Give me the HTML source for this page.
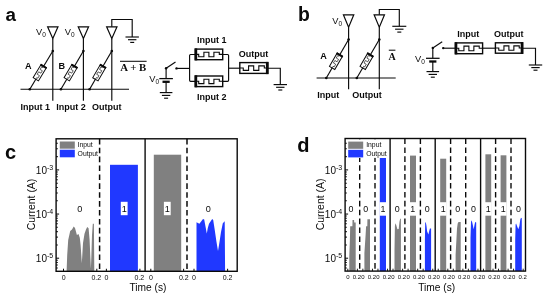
<!DOCTYPE html>
<html><head><meta charset="utf-8"><title>Figure</title>
<style>html,body{margin:0;padding:0;background:#fff}svg{display:block;filter:blur(0.35px)}</style></head>
<body>
<svg width="550" height="297" viewBox="0 0 550 297">
<rect width="550" height="297" fill="#fff"/>
<text x="5.40" y="21.00" font-size="18.8" font-weight="bold" text-anchor="start" font-family="Liberation Sans, Arial, sans-serif" fill="#0a0a0a" >a</text>
<line x1="20.50" y1="89.20" x2="129.00" y2="89.20" stroke="#0a0a0a" stroke-width="1.15" />
<polygon points="47.60,26.80 58.00,26.80 52.80,38.50" fill="#fff" stroke="#0a0a0a" stroke-width="1.15" stroke-linejoin="miter"/>
<line x1="52.80" y1="38.50" x2="52.80" y2="100.80" stroke="#0a0a0a" stroke-width="1.15" />
<line x1="52.80" y1="51.00" x2="29.80" y2="89.20" stroke="#0a0a0a" stroke-width="1.15" />
<circle cx="52.80" cy="51.00" r="1.3" fill="#0a0a0a"/>
<circle cx="29.80" cy="89.20" r="1.3" fill="#0a0a0a"/>
<g transform="translate(39.80,72.58) rotate(121.05)">
<rect x="-7.75" y="-3.10" width="15.50" height="6.20" fill="#fff" stroke="#0a0a0a" stroke-width="0.95"/>
<rect x="-8.22" y="-3.58" width="2.0" height="7.15" fill="#0a0a0a"/>
<path d="M-7.75,0 H-5.83 V1.36 H-2.88 V-1.24 H-0.06 V1.36 H2.77 V-1.24 H5.83 V0 H7.75" fill="none" stroke="#0a0a0a" stroke-width="0.6"/>
</g>
<polygon points="78.20,26.80 88.60,26.80 83.40,38.50" fill="#fff" stroke="#0a0a0a" stroke-width="1.15" stroke-linejoin="miter"/>
<line x1="83.40" y1="38.50" x2="83.40" y2="100.80" stroke="#0a0a0a" stroke-width="1.15" />
<line x1="83.40" y1="51.00" x2="60.90" y2="89.20" stroke="#0a0a0a" stroke-width="1.15" />
<circle cx="83.40" cy="51.00" r="1.3" fill="#0a0a0a"/>
<circle cx="60.90" cy="89.20" r="1.3" fill="#0a0a0a"/>
<g transform="translate(70.69,72.58) rotate(120.50)">
<rect x="-7.75" y="-3.10" width="15.50" height="6.20" fill="#fff" stroke="#0a0a0a" stroke-width="0.95"/>
<rect x="-8.22" y="-3.58" width="2.0" height="7.15" fill="#0a0a0a"/>
<path d="M-7.75,0 H-5.83 V1.36 H-2.88 V-1.24 H-0.06 V1.36 H2.77 V-1.24 H5.83 V0 H7.75" fill="none" stroke="#0a0a0a" stroke-width="0.6"/>
</g>
<polygon points="106.60,26.80 117.00,26.80 111.80,38.50" fill="#fff" stroke="#0a0a0a" stroke-width="1.15" stroke-linejoin="miter"/>
<line x1="111.80" y1="38.50" x2="111.80" y2="100.80" stroke="#0a0a0a" stroke-width="1.15" />
<line x1="111.80" y1="51.00" x2="89.60" y2="89.20" stroke="#0a0a0a" stroke-width="1.15" />
<circle cx="111.80" cy="51.00" r="1.3" fill="#0a0a0a"/>
<circle cx="89.60" cy="89.20" r="1.3" fill="#0a0a0a"/>
<g transform="translate(99.26,72.58) rotate(120.16)">
<rect x="-7.75" y="-3.10" width="15.50" height="6.20" fill="#fff" stroke="#0a0a0a" stroke-width="0.95"/>
<rect x="-8.22" y="-3.58" width="2.0" height="7.15" fill="#0a0a0a"/>
<path d="M-7.75,0 H-5.83 V1.36 H-2.88 V-1.24 H-0.06 V1.36 H2.77 V-1.24 H5.83 V0 H7.75" fill="none" stroke="#0a0a0a" stroke-width="0.6"/>
</g>
<text x="36.00" y="35.30" font-size="9.3" font-family="Liberation Sans, Arial, sans-serif" fill="#0a0a0a">V<tspan font-size="6.51" dy="1.7">0</tspan></text>
<text x="64.80" y="35.30" font-size="9.3" font-family="Liberation Sans, Arial, sans-serif" fill="#0a0a0a">V<tspan font-size="6.51" dy="1.7">0</tspan></text>
<path d="M111.8,26.8 V19.5 H132.2 V37" fill="none" stroke="#0a0a0a" stroke-width="1.15"/>
<line x1="125.50" y1="37.00" x2="138.90" y2="37.00" stroke="#0a0a0a" stroke-width="1.15" />
<line x1="128.00" y1="39.70" x2="136.40" y2="39.70" stroke="#0a0a0a" stroke-width="1.15" />
<line x1="130.20" y1="42.40" x2="134.20" y2="42.40" stroke="#0a0a0a" stroke-width="1.15" />
<text x="25.10" y="68.60" font-size="9.1" font-weight="bold" text-anchor="start" font-family="Liberation Sans, Arial, sans-serif" fill="#0a0a0a" >A</text>
<text x="58.50" y="68.60" font-size="9.1" font-weight="bold" text-anchor="start" font-family="Liberation Sans, Arial, sans-serif" fill="#0a0a0a" >B</text>
<text x="20.50" y="110.40" font-size="9" font-weight="bold" text-anchor="start" font-family="Liberation Sans, Arial, sans-serif" fill="#0a0a0a" >Input 1</text>
<text x="56.20" y="110.40" font-size="9" font-weight="bold" text-anchor="start" font-family="Liberation Sans, Arial, sans-serif" fill="#0a0a0a" >Input 2</text>
<text x="92.00" y="110.40" font-size="9" font-weight="bold" text-anchor="start" font-family="Liberation Sans, Arial, sans-serif" fill="#0a0a0a" >Output</text>
<text x="120.30" y="71.00" font-size="10.4" font-weight="bold" text-anchor="start" font-family="Liberation Serif, Times New Roman, serif" fill="#0a0a0a" textLength="26" lengthAdjust="spacingAndGlyphs">A + B</text>
<line x1="120.00" y1="61.30" x2="146.60" y2="61.30" stroke="#0a0a0a" stroke-width="1.035" />
<circle cx="166.10" cy="68.20" r="1.2" fill="#0a0a0a"/>
<line x1="166.10" y1="68.20" x2="175.50" y2="62.00" stroke="#0a0a0a" stroke-width="1.15" />
<circle cx="176.50" cy="68.40" r="1.2" fill="#0a0a0a"/>
<line x1="166.10" y1="68.20" x2="166.10" y2="78.60" stroke="#0a0a0a" stroke-width="1.15" />
<line x1="159.30" y1="78.60" x2="172.90" y2="78.60" stroke="#0a0a0a" stroke-width="1.265" />
<line x1="162.50" y1="81.80" x2="169.70" y2="81.80" stroke="#0a0a0a" stroke-width="2.3" />
<line x1="166.10" y1="81.80" x2="166.10" y2="92.60" stroke="#0a0a0a" stroke-width="1.15" />
<line x1="159.80" y1="92.60" x2="172.40" y2="92.60" stroke="#0a0a0a" stroke-width="1.15" />
<line x1="161.90" y1="95.40" x2="170.30" y2="95.40" stroke="#0a0a0a" stroke-width="1.15" />
<line x1="164.10" y1="98.20" x2="168.10" y2="98.20" stroke="#0a0a0a" stroke-width="1.15" />
<text x="149.20" y="82.00" font-size="9.3" font-family="Liberation Sans, Arial, sans-serif" fill="#0a0a0a">V<tspan font-size="6.51" dy="1.7">0</tspan></text>
<line x1="176.50" y1="68.40" x2="189.60" y2="68.40" stroke="#0a0a0a" stroke-width="1.15" />
<path d="M195,54.5 H190.6 Q189.6,54.5 189.6,55.5 V80.3 Q189.6,81.3 190.6,81.3 H195" fill="none" stroke="#0a0a0a" stroke-width="1.15"/>
<path d="M223,54.5 H227.6 Q228.6,54.5 228.6,55.5 V80.3 Q228.6,81.3 227.6,81.3 H223" fill="none" stroke="#0a0a0a" stroke-width="1.15"/>
<g transform="translate(209.00,54.40) rotate(0.00)">
<rect x="-13.70" y="-5.30" width="27.40" height="10.60" fill="#fff" stroke="#0a0a0a" stroke-width="1.4"/>
<rect x="-14.40" y="-6.00" width="2.6" height="12.00" fill="#0a0a0a"/>
<path d="M-13.70,0 H-10.30 V2.33 H-5.10 V-2.12 H-0.11 V2.33 H4.90 V-2.12 H10.30 V0 H13.70" fill="none" stroke="#0a0a0a" stroke-width="1.1"/>
</g>
<g transform="translate(209.00,81.30) rotate(0.00)">
<rect x="-13.70" y="-5.30" width="27.40" height="10.60" fill="#fff" stroke="#0a0a0a" stroke-width="1.4"/>
<rect x="-14.40" y="-6.00" width="2.6" height="12.00" fill="#0a0a0a"/>
<path d="M-13.70,0 H-10.30 V2.33 H-5.10 V-2.12 H-0.11 V2.33 H4.90 V-2.12 H10.30 V0 H13.70" fill="none" stroke="#0a0a0a" stroke-width="1.1"/>
</g>
<line x1="228.60" y1="68.20" x2="240.00" y2="68.20" stroke="#0a0a0a" stroke-width="1.15" />
<g transform="translate(253.80,68.00) rotate(0.00)">
<rect x="-14.00" y="-5.40" width="28.00" height="10.80" fill="#fff" stroke="#0a0a0a" stroke-width="1.4"/>
<rect x="12.10" y="-6.10" width="2.6" height="12.20" fill="#0a0a0a"/>
<path d="M-14.00,0 H-10.53 V2.38 H-5.21 V-2.16 H-0.11 V2.38 H5.01 V-2.16 H10.53 V0 H14.00" fill="none" stroke="#0a0a0a" stroke-width="1.1"/>
</g>
<path d="M268,68.2 H280.3 V84.6" fill="none" stroke="#0a0a0a" stroke-width="1.15"/>
<line x1="273.60" y1="84.60" x2="287.00" y2="84.60" stroke="#0a0a0a" stroke-width="1.15" />
<line x1="276.10" y1="87.30" x2="284.50" y2="87.30" stroke="#0a0a0a" stroke-width="1.15" />
<line x1="278.30" y1="90.00" x2="282.30" y2="90.00" stroke="#0a0a0a" stroke-width="1.15" />
<text x="197.00" y="42.90" font-size="9" font-weight="bold" text-anchor="start" font-family="Liberation Sans, Arial, sans-serif" fill="#0a0a0a" >Input 1</text>
<text x="197.00" y="100.20" font-size="9" font-weight="bold" text-anchor="start" font-family="Liberation Sans, Arial, sans-serif" fill="#0a0a0a" >Input 2</text>
<text x="238.80" y="57.40" font-size="9" font-weight="bold" text-anchor="start" font-family="Liberation Sans, Arial, sans-serif" fill="#0a0a0a" >Output</text>
<text x="297.90" y="21.30" font-size="19.4" font-weight="bold" text-anchor="start" font-family="Liberation Sans, Arial, sans-serif" fill="#0a0a0a" >b</text>
<line x1="316.60" y1="78.00" x2="395.70" y2="78.00" stroke="#0a0a0a" stroke-width="1.15" />
<polygon points="343.40,14.80 353.80,14.80 348.60,27.20" fill="#fff" stroke="#0a0a0a" stroke-width="1.15" stroke-linejoin="miter"/>
<line x1="348.60" y1="27.20" x2="348.60" y2="89.20" stroke="#0a0a0a" stroke-width="1.15" />
<line x1="348.60" y1="39.50" x2="326.30" y2="78.00" stroke="#0a0a0a" stroke-width="1.15" />
<circle cx="348.60" cy="39.50" r="1.3" fill="#0a0a0a"/>
<circle cx="326.30" cy="78.00" r="1.3" fill="#0a0a0a"/>
<g transform="translate(336.00,61.25) rotate(120.08)">
<rect x="-7.75" y="-3.10" width="15.50" height="6.20" fill="#fff" stroke="#0a0a0a" stroke-width="0.95"/>
<rect x="-8.22" y="-3.58" width="2.0" height="7.15" fill="#0a0a0a"/>
<path d="M-7.75,0 H-5.83 V1.36 H-2.88 V-1.24 H-0.06 V1.36 H2.77 V-1.24 H5.83 V0 H7.75" fill="none" stroke="#0a0a0a" stroke-width="0.6"/>
</g>
<polygon points="374.10,14.80 384.50,14.80 379.30,27.20" fill="#fff" stroke="#0a0a0a" stroke-width="1.15" stroke-linejoin="miter"/>
<line x1="379.30" y1="27.20" x2="379.30" y2="89.20" stroke="#0a0a0a" stroke-width="1.15" />
<line x1="379.30" y1="39.50" x2="356.80" y2="78.00" stroke="#0a0a0a" stroke-width="1.15" />
<circle cx="379.30" cy="39.50" r="1.3" fill="#0a0a0a"/>
<circle cx="356.80" cy="78.00" r="1.3" fill="#0a0a0a"/>
<g transform="translate(366.59,61.25) rotate(120.30)">
<rect x="-7.75" y="-3.10" width="15.50" height="6.20" fill="#fff" stroke="#0a0a0a" stroke-width="0.95"/>
<rect x="-8.22" y="-3.58" width="2.0" height="7.15" fill="#0a0a0a"/>
<path d="M-7.75,0 H-5.83 V1.36 H-2.88 V-1.24 H-0.06 V1.36 H2.77 V-1.24 H5.83 V0 H7.75" fill="none" stroke="#0a0a0a" stroke-width="0.6"/>
</g>
<text x="332.30" y="24.00" font-size="9.3" font-family="Liberation Sans, Arial, sans-serif" fill="#0a0a0a">V<tspan font-size="6.51" dy="1.7">0</tspan></text>
<path d="M379.3,14.8 V9.5 H399.3 V26.3" fill="none" stroke="#0a0a0a" stroke-width="1.15"/>
<line x1="392.30" y1="26.30" x2="406.30" y2="26.30" stroke="#0a0a0a" stroke-width="1.15" />
<line x1="395.10" y1="29.20" x2="403.50" y2="29.20" stroke="#0a0a0a" stroke-width="1.15" />
<line x1="397.30" y1="32.10" x2="401.30" y2="32.10" stroke="#0a0a0a" stroke-width="1.15" />
<text x="320.30" y="58.50" font-size="9.1" font-weight="bold" text-anchor="start" font-family="Liberation Sans, Arial, sans-serif" fill="#0a0a0a" >A</text>
<text x="388.40" y="59.90" font-size="10" font-weight="bold" text-anchor="start" font-family="Liberation Serif, Times New Roman, serif" fill="#0a0a0a" >A</text>
<line x1="388.80" y1="50.20" x2="395.40" y2="50.20" stroke="#0a0a0a" stroke-width="1.035" />
<text x="317.20" y="98.30" font-size="9" font-weight="bold" text-anchor="start" font-family="Liberation Sans, Arial, sans-serif" fill="#0a0a0a" >Input</text>
<text x="352.20" y="98.30" font-size="9" font-weight="bold" text-anchor="start" font-family="Liberation Sans, Arial, sans-serif" fill="#0a0a0a" >Output</text>
<circle cx="432.80" cy="47.90" r="1.2" fill="#0a0a0a"/>
<line x1="432.80" y1="47.90" x2="442.20" y2="41.70" stroke="#0a0a0a" stroke-width="1.15" />
<circle cx="443.20" cy="48.10" r="1.2" fill="#0a0a0a"/>
<line x1="432.80" y1="47.90" x2="432.80" y2="58.30" stroke="#0a0a0a" stroke-width="1.15" />
<line x1="426.00" y1="58.30" x2="439.60" y2="58.30" stroke="#0a0a0a" stroke-width="1.265" />
<line x1="429.20" y1="61.50" x2="436.40" y2="61.50" stroke="#0a0a0a" stroke-width="2.3" />
<line x1="432.80" y1="61.50" x2="432.80" y2="71.60" stroke="#0a0a0a" stroke-width="1.15" />
<line x1="426.50" y1="71.60" x2="439.10" y2="71.60" stroke="#0a0a0a" stroke-width="1.15" />
<line x1="428.60" y1="74.40" x2="437.00" y2="74.40" stroke="#0a0a0a" stroke-width="1.15" />
<line x1="430.80" y1="77.20" x2="434.80" y2="77.20" stroke="#0a0a0a" stroke-width="1.15" />
<text x="415.00" y="62.00" font-size="9.3" font-family="Liberation Sans, Arial, sans-serif" fill="#0a0a0a">V<tspan font-size="6.51" dy="1.7">0</tspan></text>
<line x1="443.00" y1="48.20" x2="456.00" y2="48.20" stroke="#0a0a0a" stroke-width="1.15" />
<g transform="translate(469.00,48.30) rotate(0.00)">
<rect x="-13.60" y="-5.40" width="27.20" height="10.80" fill="#fff" stroke="#0a0a0a" stroke-width="1.4"/>
<rect x="-14.30" y="-6.10" width="2.6" height="12.20" fill="#0a0a0a"/>
<path d="M-13.60,0 H-10.23 V2.38 H-5.06 V-2.16 H-0.11 V2.38 H4.87 V-2.16 H10.23 V0 H13.60" fill="none" stroke="#0a0a0a" stroke-width="1.1"/>
</g>
<line x1="482.60" y1="48.20" x2="496.00" y2="48.20" stroke="#0a0a0a" stroke-width="1.15" />
<g transform="translate(509.00,48.00) rotate(0.00)">
<rect x="-13.60" y="-5.20" width="27.20" height="10.40" fill="#fff" stroke="#0a0a0a" stroke-width="1.4"/>
<rect x="11.70" y="-5.90" width="2.6" height="11.80" fill="#0a0a0a"/>
<path d="M-13.60,0 H-10.23 V2.29 H-5.06 V-2.08 H-0.11 V2.29 H4.87 V-2.08 H10.23 V0 H13.60" fill="none" stroke="#0a0a0a" stroke-width="1.1"/>
</g>
<path d="M522.7,48.2 H535.5 V65" fill="none" stroke="#0a0a0a" stroke-width="1.15"/>
<line x1="528.80" y1="65.00" x2="542.20" y2="65.00" stroke="#0a0a0a" stroke-width="1.15" />
<line x1="531.30" y1="67.60" x2="539.70" y2="67.60" stroke="#0a0a0a" stroke-width="1.15" />
<line x1="533.50" y1="70.20" x2="537.50" y2="70.20" stroke="#0a0a0a" stroke-width="1.15" />
<text x="457.20" y="36.50" font-size="9" font-weight="bold" text-anchor="start" font-family="Liberation Sans, Arial, sans-serif" fill="#0a0a0a" >Input</text>
<text x="494.00" y="36.50" font-size="9" font-weight="bold" text-anchor="start" font-family="Liberation Sans, Arial, sans-serif" fill="#0a0a0a" >Output</text>
<text x="4.90" y="159.00" font-size="20" font-weight="bold" text-anchor="start" font-family="Liberation Sans, Arial, sans-serif" fill="#0a0a0a" >c</text>
<rect x="59.8" y="141.5" width="15" height="7.2" fill="#808080"/>
<rect x="59.8" y="149.7" width="15" height="7.6" fill="#2038ff"/>
<text x="77.60" y="147.30" font-size="6.8" font-weight="normal" text-anchor="start" font-family="Liberation Sans, Arial, sans-serif" fill="#0a0a0a" >Input</text>
<text x="77.60" y="156.00" font-size="6.8" font-weight="normal" text-anchor="start" font-family="Liberation Sans, Arial, sans-serif" fill="#0a0a0a" >Output</text>
<rect x="110" y="164.8" width="27.9" height="106.50" fill="#2038ff"/>
<rect x="153.8" y="154.7" width="27.4" height="116.60" fill="#808080"/>
<polygon points="66.60,271.30 67.20,255.00 68.20,240.00 70.20,231.00 72.00,229.50 73.70,226.40 75.00,228.00 76.90,235.00 78.50,234.00 79.80,237.70 80.60,245.00 81.30,255.00 81.80,263.30 82.30,255.00 83.00,243.00 84.50,233.70 86.00,229.50 87.20,226.90 88.60,228.30 89.60,240.00 90.40,258.00 90.90,268.70 91.30,258.00 92.00,235.00 92.80,223.70 93.90,223.70 94.30,271.30" fill="#808080" stroke="none" stroke-width="1" stroke-linejoin="miter"/>
<polygon points="196.50,271.30 196.50,222.20 199.40,223.80 201.50,221.00 203.00,219.00 204.20,219.50 205.60,227.00 206.80,233.40 207.80,228.00 209.00,223.80 212.20,219.00 213.20,220.00 214.60,229.00 216.50,242.00 218.00,251.00 219.50,242.00 221.00,232.00 222.80,223.20 224.70,221.20 225.10,271.30" fill="#2038ff" stroke="none" stroke-width="1" stroke-linejoin="miter"/>
<line x1="99.60" y1="138.80" x2="99.60" y2="271.30" stroke="#0a0a0a" stroke-width="1.495" stroke-dasharray="5.6 3.3"/>
<line x1="187.00" y1="138.80" x2="187.00" y2="271.30" stroke="#0a0a0a" stroke-width="1.495" stroke-dasharray="5.6 3.3"/>
<line x1="145.10" y1="138.80" x2="145.10" y2="271.30" stroke="#0a0a0a" stroke-width="1.38" />
<line x1="63.50" y1="271.30" x2="63.50" y2="268.70" stroke="#0a0a0a" stroke-width="1.035" />
<line x1="96.80" y1="271.30" x2="96.80" y2="268.70" stroke="#0a0a0a" stroke-width="1.035" />
<line x1="106.40" y1="271.30" x2="106.40" y2="268.70" stroke="#0a0a0a" stroke-width="1.035" />
<line x1="139.90" y1="271.30" x2="139.90" y2="268.70" stroke="#0a0a0a" stroke-width="1.035" />
<line x1="150.80" y1="271.30" x2="150.80" y2="268.70" stroke="#0a0a0a" stroke-width="1.035" />
<line x1="183.60" y1="271.30" x2="183.60" y2="268.70" stroke="#0a0a0a" stroke-width="1.035" />
<line x1="194.00" y1="271.30" x2="194.00" y2="268.70" stroke="#0a0a0a" stroke-width="1.035" />
<line x1="227.60" y1="271.30" x2="227.60" y2="268.70" stroke="#0a0a0a" stroke-width="1.035" />
<line x1="56.10" y1="267.99" x2="57.80" y2="267.99" stroke="#0a0a0a" stroke-width="1.035" />
<line x1="56.10" y1="265.04" x2="57.80" y2="265.04" stroke="#0a0a0a" stroke-width="1.035" />
<line x1="56.10" y1="262.48" x2="57.80" y2="262.48" stroke="#0a0a0a" stroke-width="1.035" />
<line x1="56.10" y1="260.22" x2="57.80" y2="260.22" stroke="#0a0a0a" stroke-width="1.035" />
<line x1="56.10" y1="258.20" x2="59.10" y2="258.20" stroke="#0a0a0a" stroke-width="1.035" />
<line x1="56.10" y1="244.91" x2="57.80" y2="244.91" stroke="#0a0a0a" stroke-width="1.035" />
<line x1="56.10" y1="237.14" x2="57.80" y2="237.14" stroke="#0a0a0a" stroke-width="1.035" />
<line x1="56.10" y1="231.62" x2="57.80" y2="231.62" stroke="#0a0a0a" stroke-width="1.035" />
<line x1="56.10" y1="227.34" x2="57.80" y2="227.34" stroke="#0a0a0a" stroke-width="1.035" />
<line x1="56.10" y1="223.84" x2="57.80" y2="223.84" stroke="#0a0a0a" stroke-width="1.035" />
<line x1="56.10" y1="220.89" x2="57.80" y2="220.89" stroke="#0a0a0a" stroke-width="1.035" />
<line x1="56.10" y1="218.33" x2="57.80" y2="218.33" stroke="#0a0a0a" stroke-width="1.035" />
<line x1="56.10" y1="216.07" x2="57.80" y2="216.07" stroke="#0a0a0a" stroke-width="1.035" />
<line x1="56.10" y1="214.05" x2="59.10" y2="214.05" stroke="#0a0a0a" stroke-width="1.035" />
<line x1="56.10" y1="200.76" x2="57.80" y2="200.76" stroke="#0a0a0a" stroke-width="1.035" />
<line x1="56.10" y1="192.99" x2="57.80" y2="192.99" stroke="#0a0a0a" stroke-width="1.035" />
<line x1="56.10" y1="187.47" x2="57.80" y2="187.47" stroke="#0a0a0a" stroke-width="1.035" />
<line x1="56.10" y1="183.19" x2="57.80" y2="183.19" stroke="#0a0a0a" stroke-width="1.035" />
<line x1="56.10" y1="179.69" x2="57.80" y2="179.69" stroke="#0a0a0a" stroke-width="1.035" />
<line x1="56.10" y1="176.74" x2="57.80" y2="176.74" stroke="#0a0a0a" stroke-width="1.035" />
<line x1="56.10" y1="174.18" x2="57.80" y2="174.18" stroke="#0a0a0a" stroke-width="1.035" />
<line x1="56.10" y1="171.92" x2="57.80" y2="171.92" stroke="#0a0a0a" stroke-width="1.035" />
<line x1="56.10" y1="169.90" x2="59.10" y2="169.90" stroke="#0a0a0a" stroke-width="1.035" />
<line x1="56.10" y1="156.61" x2="57.80" y2="156.61" stroke="#0a0a0a" stroke-width="1.035" />
<line x1="56.10" y1="148.84" x2="57.80" y2="148.84" stroke="#0a0a0a" stroke-width="1.035" />
<line x1="56.10" y1="143.32" x2="57.80" y2="143.32" stroke="#0a0a0a" stroke-width="1.035" />
<rect x="56.1" y="138.8" width="181.10" height="132.50" fill="none" stroke="#0a0a0a" stroke-width="1.4"/>
<text x="53.20" y="173.50" font-size="10" text-anchor="end" font-family="Liberation Sans, Arial, sans-serif" fill="#0a0a0a">10<tspan font-size="7" dy="-3.8">-3</tspan></text>
<text x="53.20" y="217.65" font-size="10" text-anchor="end" font-family="Liberation Sans, Arial, sans-serif" fill="#0a0a0a">10<tspan font-size="7" dy="-3.8">-4</tspan></text>
<text x="53.20" y="261.80" font-size="10" text-anchor="end" font-family="Liberation Sans, Arial, sans-serif" fill="#0a0a0a">10<tspan font-size="7" dy="-3.8">-5</tspan></text>
<text x="63.70" y="279.90" font-size="7" font-weight="normal" text-anchor="middle" font-family="Liberation Sans, Arial, sans-serif" fill="#0a0a0a" >0</text>
<text x="96.30" y="279.90" font-size="7" font-weight="normal" text-anchor="middle" font-family="Liberation Sans, Arial, sans-serif" fill="#0a0a0a" >0.2</text>
<text x="106.40" y="279.90" font-size="7" font-weight="normal" text-anchor="middle" font-family="Liberation Sans, Arial, sans-serif" fill="#0a0a0a" >0</text>
<text x="139.40" y="279.90" font-size="7" font-weight="normal" text-anchor="middle" font-family="Liberation Sans, Arial, sans-serif" fill="#0a0a0a" >0.2</text>
<text x="150.90" y="279.90" font-size="7" font-weight="normal" text-anchor="middle" font-family="Liberation Sans, Arial, sans-serif" fill="#0a0a0a" >0</text>
<text x="183.80" y="279.90" font-size="7" font-weight="normal" text-anchor="middle" font-family="Liberation Sans, Arial, sans-serif" fill="#0a0a0a" >0.2</text>
<text x="194.00" y="279.90" font-size="7" font-weight="normal" text-anchor="middle" font-family="Liberation Sans, Arial, sans-serif" fill="#0a0a0a" >0</text>
<text x="227.60" y="279.90" font-size="7" font-weight="normal" text-anchor="middle" font-family="Liberation Sans, Arial, sans-serif" fill="#0a0a0a" >0.2</text>
<text x="129.40" y="291.00" font-size="10.1" font-weight="normal" text-anchor="start" font-family="Liberation Sans, Arial, sans-serif" fill="#0a0a0a" textLength="37" lengthAdjust="spacingAndGlyphs">Time (s)</text>
<text transform="translate(34.8,230.3) rotate(-90)" font-size="10.3" textLength="51.6" lengthAdjust="spacingAndGlyphs" font-family="Liberation Sans, Arial, sans-serif" fill="#0a0a0a">Current (A)</text>
<text x="79.70" y="212.10" font-size="9.1" font-weight="normal" text-anchor="middle" font-family="Liberation Sans, Arial, sans-serif" fill="#0a0a0a" >0</text>
<text x="208.40" y="212.10" font-size="9.1" font-weight="normal" text-anchor="middle" font-family="Liberation Sans, Arial, sans-serif" fill="#0a0a0a" >0</text>
<rect x="120.80" y="201.8" width="6.8" height="13.4" fill="#fff"/>
<text x="124.20" y="212.10" font-size="9.1" font-weight="normal" text-anchor="middle" font-family="Liberation Sans, Arial, sans-serif" fill="#0a0a0a" >1</text>
<rect x="163.90" y="201.8" width="6.8" height="13.4" fill="#fff"/>
<text x="167.30" y="212.10" font-size="9.1" font-weight="normal" text-anchor="middle" font-family="Liberation Sans, Arial, sans-serif" fill="#0a0a0a" >1</text>
<text x="297.20" y="152.20" font-size="20" font-weight="bold" text-anchor="start" font-family="Liberation Sans, Arial, sans-serif" fill="#0a0a0a" >d</text>
<rect x="379.8" y="157.9" width="6.20" height="113.20" fill="#2038ff"/>
<rect x="410.0" y="155.6" width="6.00" height="115.50" fill="#808080"/>
<rect x="440.2" y="158.7" width="6.00" height="112.40" fill="#808080"/>
<rect x="485.4" y="154.3" width="5.80" height="116.80" fill="#808080"/>
<rect x="500.6" y="155.3" width="5.80" height="115.80" fill="#808080"/>
<polygon points="349.30,271.10 349.30,256.00 349.90,240.00 350.20,226.30 352.40,226.30 352.50,220.00 354.10,220.00 354.20,222.50 355.70,222.50 355.70,271.10" fill="#808080" stroke="none" stroke-width="1" stroke-linejoin="miter"/>
<polygon points="364.40,271.10 364.40,253.00 365.60,235.00 366.10,226.30 367.30,226.30 367.40,219.20 370.00,219.20 370.00,271.10" fill="#808080" stroke="none" stroke-width="1" stroke-linejoin="miter"/>
<polygon points="394.50,271.10 394.50,250.00 394.90,226.00 395.40,223.30 396.20,225.00 397.40,229.30 398.70,229.00 399.40,222.00 400.20,218.40 400.90,219.00 400.90,271.10" fill="#808080" stroke="none" stroke-width="1" stroke-linejoin="miter"/>
<polygon points="424.90,271.10 424.90,240.00 425.20,223.00 425.80,222.00 426.50,226.00 427.10,231.20 428.40,234.40 429.20,231.00 429.90,228.60 431.10,228.60 431.10,271.10" fill="#2038ff" stroke="none" stroke-width="1" stroke-linejoin="miter"/>
<polygon points="455.60,271.10 455.60,255.00 456.40,240.00 457.00,228.50 457.70,223.50 458.50,221.90 460.70,221.90 460.70,271.10" fill="#808080" stroke="none" stroke-width="1" stroke-linejoin="miter"/>
<polygon points="470.50,271.10 470.50,237.60 471.00,222.00 471.70,220.30 472.60,224.00 473.70,229.30 474.50,225.00 475.20,222.00 476.20,222.50 476.20,271.10" fill="#2038ff" stroke="none" stroke-width="1" stroke-linejoin="miter"/>
<polygon points="515.20,271.10 515.20,240.00 515.60,224.50 516.10,223.50 517.20,226.50 518.30,229.30 519.40,226.00 520.30,219.50 521.00,217.80 521.80,218.20 521.80,271.10" fill="#2038ff" stroke="none" stroke-width="1" stroke-linejoin="miter"/>
<line x1="359.70" y1="138.50" x2="359.70" y2="271.10" stroke="#0a0a0a" stroke-width="1.38" stroke-dasharray="5.6 3.3"/>
<line x1="375.00" y1="138.50" x2="375.00" y2="271.10" stroke="#0a0a0a" stroke-width="1.38" stroke-dasharray="5.6 3.3"/>
<line x1="390.10" y1="138.50" x2="390.10" y2="271.10" stroke="#0a0a0a" stroke-width="1.38" />
<line x1="404.90" y1="138.50" x2="404.90" y2="271.10" stroke="#0a0a0a" stroke-width="1.38" stroke-dasharray="5.6 3.3"/>
<line x1="420.40" y1="138.50" x2="420.40" y2="271.10" stroke="#0a0a0a" stroke-width="1.38" stroke-dasharray="5.6 3.3"/>
<line x1="435.20" y1="138.50" x2="435.20" y2="271.10" stroke="#0a0a0a" stroke-width="1.38" />
<line x1="450.60" y1="138.50" x2="450.60" y2="271.10" stroke="#0a0a0a" stroke-width="1.38" stroke-dasharray="5.6 3.3"/>
<line x1="465.70" y1="138.50" x2="465.70" y2="271.10" stroke="#0a0a0a" stroke-width="1.38" stroke-dasharray="5.6 3.3"/>
<line x1="480.60" y1="138.50" x2="480.60" y2="271.10" stroke="#0a0a0a" stroke-width="1.38" />
<line x1="495.60" y1="138.50" x2="495.60" y2="271.10" stroke="#0a0a0a" stroke-width="1.38" stroke-dasharray="5.6 3.3"/>
<line x1="511.00" y1="138.50" x2="511.00" y2="271.10" stroke="#0a0a0a" stroke-width="1.38" stroke-dasharray="5.6 3.3"/>
<rect x="346" y="139.3" width="42.5" height="18.6" fill="#fff"/>
<rect x="348.2" y="141.6" width="15" height="7.2" fill="#808080"/>
<rect x="348.2" y="149.79999999999998" width="15" height="7.6" fill="#2038ff"/>
<text x="366.20" y="147.40" font-size="6.8" font-weight="normal" text-anchor="start" font-family="Liberation Sans, Arial, sans-serif" fill="#0a0a0a" >Input</text>
<text x="366.20" y="156.10" font-size="6.8" font-weight="normal" text-anchor="start" font-family="Liberation Sans, Arial, sans-serif" fill="#0a0a0a" >Output</text>
<line x1="347.80" y1="271.10" x2="347.80" y2="268.70" stroke="#0a0a0a" stroke-width="0.92" />
<line x1="357.40" y1="271.10" x2="357.40" y2="268.70" stroke="#0a0a0a" stroke-width="0.92" />
<line x1="362.87" y1="271.10" x2="362.87" y2="268.70" stroke="#0a0a0a" stroke-width="0.92" />
<line x1="372.47" y1="271.10" x2="372.47" y2="268.70" stroke="#0a0a0a" stroke-width="0.92" />
<line x1="377.94" y1="271.10" x2="377.94" y2="268.70" stroke="#0a0a0a" stroke-width="0.92" />
<line x1="387.54" y1="271.10" x2="387.54" y2="268.70" stroke="#0a0a0a" stroke-width="0.92" />
<line x1="393.01" y1="271.10" x2="393.01" y2="268.70" stroke="#0a0a0a" stroke-width="0.92" />
<line x1="402.61" y1="271.10" x2="402.61" y2="268.70" stroke="#0a0a0a" stroke-width="0.92" />
<line x1="408.08" y1="271.10" x2="408.08" y2="268.70" stroke="#0a0a0a" stroke-width="0.92" />
<line x1="417.68" y1="271.10" x2="417.68" y2="268.70" stroke="#0a0a0a" stroke-width="0.92" />
<line x1="423.15" y1="271.10" x2="423.15" y2="268.70" stroke="#0a0a0a" stroke-width="0.92" />
<line x1="432.75" y1="271.10" x2="432.75" y2="268.70" stroke="#0a0a0a" stroke-width="0.92" />
<line x1="438.22" y1="271.10" x2="438.22" y2="268.70" stroke="#0a0a0a" stroke-width="0.92" />
<line x1="447.82" y1="271.10" x2="447.82" y2="268.70" stroke="#0a0a0a" stroke-width="0.92" />
<line x1="453.29" y1="271.10" x2="453.29" y2="268.70" stroke="#0a0a0a" stroke-width="0.92" />
<line x1="462.89" y1="271.10" x2="462.89" y2="268.70" stroke="#0a0a0a" stroke-width="0.92" />
<line x1="468.36" y1="271.10" x2="468.36" y2="268.70" stroke="#0a0a0a" stroke-width="0.92" />
<line x1="477.96" y1="271.10" x2="477.96" y2="268.70" stroke="#0a0a0a" stroke-width="0.92" />
<line x1="483.43" y1="271.10" x2="483.43" y2="268.70" stroke="#0a0a0a" stroke-width="0.92" />
<line x1="493.03" y1="271.10" x2="493.03" y2="268.70" stroke="#0a0a0a" stroke-width="0.92" />
<line x1="498.50" y1="271.10" x2="498.50" y2="268.70" stroke="#0a0a0a" stroke-width="0.92" />
<line x1="508.10" y1="271.10" x2="508.10" y2="268.70" stroke="#0a0a0a" stroke-width="0.92" />
<line x1="513.57" y1="271.10" x2="513.57" y2="268.70" stroke="#0a0a0a" stroke-width="0.92" />
<line x1="523.17" y1="271.10" x2="523.17" y2="268.70" stroke="#0a0a0a" stroke-width="0.92" />
<line x1="345.10" y1="267.99" x2="346.80" y2="267.99" stroke="#0a0a0a" stroke-width="1.035" />
<line x1="345.10" y1="265.04" x2="346.80" y2="265.04" stroke="#0a0a0a" stroke-width="1.035" />
<line x1="345.10" y1="262.48" x2="346.80" y2="262.48" stroke="#0a0a0a" stroke-width="1.035" />
<line x1="345.10" y1="260.22" x2="346.80" y2="260.22" stroke="#0a0a0a" stroke-width="1.035" />
<line x1="345.10" y1="258.20" x2="348.10" y2="258.20" stroke="#0a0a0a" stroke-width="1.035" />
<line x1="345.10" y1="244.91" x2="346.80" y2="244.91" stroke="#0a0a0a" stroke-width="1.035" />
<line x1="345.10" y1="237.14" x2="346.80" y2="237.14" stroke="#0a0a0a" stroke-width="1.035" />
<line x1="345.10" y1="231.62" x2="346.80" y2="231.62" stroke="#0a0a0a" stroke-width="1.035" />
<line x1="345.10" y1="227.34" x2="346.80" y2="227.34" stroke="#0a0a0a" stroke-width="1.035" />
<line x1="345.10" y1="223.84" x2="346.80" y2="223.84" stroke="#0a0a0a" stroke-width="1.035" />
<line x1="345.10" y1="220.89" x2="346.80" y2="220.89" stroke="#0a0a0a" stroke-width="1.035" />
<line x1="345.10" y1="218.33" x2="346.80" y2="218.33" stroke="#0a0a0a" stroke-width="1.035" />
<line x1="345.10" y1="216.07" x2="346.80" y2="216.07" stroke="#0a0a0a" stroke-width="1.035" />
<line x1="345.10" y1="214.05" x2="348.10" y2="214.05" stroke="#0a0a0a" stroke-width="1.035" />
<line x1="345.10" y1="200.76" x2="346.80" y2="200.76" stroke="#0a0a0a" stroke-width="1.035" />
<line x1="345.10" y1="192.99" x2="346.80" y2="192.99" stroke="#0a0a0a" stroke-width="1.035" />
<line x1="345.10" y1="187.47" x2="346.80" y2="187.47" stroke="#0a0a0a" stroke-width="1.035" />
<line x1="345.10" y1="183.19" x2="346.80" y2="183.19" stroke="#0a0a0a" stroke-width="1.035" />
<line x1="345.10" y1="179.69" x2="346.80" y2="179.69" stroke="#0a0a0a" stroke-width="1.035" />
<line x1="345.10" y1="176.74" x2="346.80" y2="176.74" stroke="#0a0a0a" stroke-width="1.035" />
<line x1="345.10" y1="174.18" x2="346.80" y2="174.18" stroke="#0a0a0a" stroke-width="1.035" />
<line x1="345.10" y1="171.92" x2="346.80" y2="171.92" stroke="#0a0a0a" stroke-width="1.035" />
<line x1="345.10" y1="169.90" x2="348.10" y2="169.90" stroke="#0a0a0a" stroke-width="1.035" />
<line x1="345.10" y1="156.61" x2="346.80" y2="156.61" stroke="#0a0a0a" stroke-width="1.035" />
<line x1="345.10" y1="148.84" x2="346.80" y2="148.84" stroke="#0a0a0a" stroke-width="1.035" />
<line x1="345.10" y1="143.32" x2="346.80" y2="143.32" stroke="#0a0a0a" stroke-width="1.035" />
<rect x="345.1" y="138.5" width="180.40" height="132.60" fill="none" stroke="#0a0a0a" stroke-width="1.4"/>
<text x="342.20" y="173.50" font-size="10" text-anchor="end" font-family="Liberation Sans, Arial, sans-serif" fill="#0a0a0a">10<tspan font-size="7" dy="-3.8">-3</tspan></text>
<text x="342.20" y="217.65" font-size="10" text-anchor="end" font-family="Liberation Sans, Arial, sans-serif" fill="#0a0a0a">10<tspan font-size="7" dy="-3.8">-4</tspan></text>
<text x="342.20" y="261.80" font-size="10" text-anchor="end" font-family="Liberation Sans, Arial, sans-serif" fill="#0a0a0a">10<tspan font-size="7" dy="-3.8">-5</tspan></text>
<text x="347.80" y="278.70" font-size="6" font-weight="normal" text-anchor="middle" font-family="Liberation Sans, Arial, sans-serif" fill="#0a0a0a" >0</text>
<text x="356.80" y="278.70" font-size="6" font-weight="normal" text-anchor="middle" font-family="Liberation Sans, Arial, sans-serif" fill="#0a0a0a" >0.2</text>
<text x="362.87" y="278.70" font-size="6" font-weight="normal" text-anchor="middle" font-family="Liberation Sans, Arial, sans-serif" fill="#0a0a0a" >0</text>
<text x="371.87" y="278.70" font-size="6" font-weight="normal" text-anchor="middle" font-family="Liberation Sans, Arial, sans-serif" fill="#0a0a0a" >0.2</text>
<text x="377.94" y="278.70" font-size="6" font-weight="normal" text-anchor="middle" font-family="Liberation Sans, Arial, sans-serif" fill="#0a0a0a" >0</text>
<text x="386.94" y="278.70" font-size="6" font-weight="normal" text-anchor="middle" font-family="Liberation Sans, Arial, sans-serif" fill="#0a0a0a" >0.2</text>
<text x="393.01" y="278.70" font-size="6" font-weight="normal" text-anchor="middle" font-family="Liberation Sans, Arial, sans-serif" fill="#0a0a0a" >0</text>
<text x="402.01" y="278.70" font-size="6" font-weight="normal" text-anchor="middle" font-family="Liberation Sans, Arial, sans-serif" fill="#0a0a0a" >0.2</text>
<text x="408.08" y="278.70" font-size="6" font-weight="normal" text-anchor="middle" font-family="Liberation Sans, Arial, sans-serif" fill="#0a0a0a" >0</text>
<text x="417.08" y="278.70" font-size="6" font-weight="normal" text-anchor="middle" font-family="Liberation Sans, Arial, sans-serif" fill="#0a0a0a" >0.2</text>
<text x="423.15" y="278.70" font-size="6" font-weight="normal" text-anchor="middle" font-family="Liberation Sans, Arial, sans-serif" fill="#0a0a0a" >0</text>
<text x="432.15" y="278.70" font-size="6" font-weight="normal" text-anchor="middle" font-family="Liberation Sans, Arial, sans-serif" fill="#0a0a0a" >0.2</text>
<text x="438.22" y="278.70" font-size="6" font-weight="normal" text-anchor="middle" font-family="Liberation Sans, Arial, sans-serif" fill="#0a0a0a" >0</text>
<text x="447.22" y="278.70" font-size="6" font-weight="normal" text-anchor="middle" font-family="Liberation Sans, Arial, sans-serif" fill="#0a0a0a" >0.2</text>
<text x="453.29" y="278.70" font-size="6" font-weight="normal" text-anchor="middle" font-family="Liberation Sans, Arial, sans-serif" fill="#0a0a0a" >0</text>
<text x="462.29" y="278.70" font-size="6" font-weight="normal" text-anchor="middle" font-family="Liberation Sans, Arial, sans-serif" fill="#0a0a0a" >0.2</text>
<text x="468.36" y="278.70" font-size="6" font-weight="normal" text-anchor="middle" font-family="Liberation Sans, Arial, sans-serif" fill="#0a0a0a" >0</text>
<text x="477.36" y="278.70" font-size="6" font-weight="normal" text-anchor="middle" font-family="Liberation Sans, Arial, sans-serif" fill="#0a0a0a" >0.2</text>
<text x="483.43" y="278.70" font-size="6" font-weight="normal" text-anchor="middle" font-family="Liberation Sans, Arial, sans-serif" fill="#0a0a0a" >0</text>
<text x="492.43" y="278.70" font-size="6" font-weight="normal" text-anchor="middle" font-family="Liberation Sans, Arial, sans-serif" fill="#0a0a0a" >0.2</text>
<text x="498.50" y="278.70" font-size="6" font-weight="normal" text-anchor="middle" font-family="Liberation Sans, Arial, sans-serif" fill="#0a0a0a" >0</text>
<text x="507.50" y="278.70" font-size="6" font-weight="normal" text-anchor="middle" font-family="Liberation Sans, Arial, sans-serif" fill="#0a0a0a" >0.2</text>
<text x="513.57" y="278.70" font-size="6" font-weight="normal" text-anchor="middle" font-family="Liberation Sans, Arial, sans-serif" fill="#0a0a0a" >0</text>
<text x="522.57" y="278.70" font-size="6" font-weight="normal" text-anchor="middle" font-family="Liberation Sans, Arial, sans-serif" fill="#0a0a0a" >0.2</text>
<text x="418.20" y="291.00" font-size="10.1" font-weight="normal" text-anchor="start" font-family="Liberation Sans, Arial, sans-serif" fill="#0a0a0a" textLength="37" lengthAdjust="spacingAndGlyphs">Time (s)</text>
<text transform="translate(324.3,230.3) rotate(-90)" font-size="10.3" textLength="51.8" lengthAdjust="spacingAndGlyphs" font-family="Liberation Sans, Arial, sans-serif" fill="#0a0a0a">Current (A)</text>
<text x="351.00" y="212.20" font-size="8.9" font-weight="normal" text-anchor="middle" font-family="Liberation Sans, Arial, sans-serif" fill="#0a0a0a" >0</text>
<text x="365.60" y="212.20" font-size="8.9" font-weight="normal" text-anchor="middle" font-family="Liberation Sans, Arial, sans-serif" fill="#0a0a0a" >0</text>
<rect x="379.60" y="202.2" width="6.8" height="13.5" fill="#fff"/>
<text x="383.00" y="212.20" font-size="8.9" font-weight="normal" text-anchor="middle" font-family="Liberation Sans, Arial, sans-serif" fill="#0a0a0a" >1</text>
<text x="397.20" y="212.20" font-size="8.9" font-weight="normal" text-anchor="middle" font-family="Liberation Sans, Arial, sans-serif" fill="#0a0a0a" >0</text>
<rect x="409.40" y="202.2" width="6.8" height="13.5" fill="#fff"/>
<text x="412.80" y="212.20" font-size="8.9" font-weight="normal" text-anchor="middle" font-family="Liberation Sans, Arial, sans-serif" fill="#0a0a0a" >1</text>
<text x="427.30" y="212.20" font-size="8.9" font-weight="normal" text-anchor="middle" font-family="Liberation Sans, Arial, sans-serif" fill="#0a0a0a" >0</text>
<rect x="439.80" y="202.2" width="6.8" height="13.5" fill="#fff"/>
<text x="443.20" y="212.20" font-size="8.9" font-weight="normal" text-anchor="middle" font-family="Liberation Sans, Arial, sans-serif" fill="#0a0a0a" >1</text>
<text x="457.80" y="212.20" font-size="8.9" font-weight="normal" text-anchor="middle" font-family="Liberation Sans, Arial, sans-serif" fill="#0a0a0a" >0</text>
<text x="473.50" y="212.20" font-size="8.9" font-weight="normal" text-anchor="middle" font-family="Liberation Sans, Arial, sans-serif" fill="#0a0a0a" >0</text>
<rect x="484.80" y="202.2" width="6.8" height="13.5" fill="#fff"/>
<text x="488.20" y="212.20" font-size="8.9" font-weight="normal" text-anchor="middle" font-family="Liberation Sans, Arial, sans-serif" fill="#0a0a0a" >1</text>
<rect x="499.80" y="202.2" width="6.8" height="13.5" fill="#fff"/>
<text x="503.20" y="212.20" font-size="8.9" font-weight="normal" text-anchor="middle" font-family="Liberation Sans, Arial, sans-serif" fill="#0a0a0a" >1</text>
<text x="518.40" y="212.20" font-size="8.9" font-weight="normal" text-anchor="middle" font-family="Liberation Sans, Arial, sans-serif" fill="#0a0a0a" >0</text>
</svg>
</body></html>
